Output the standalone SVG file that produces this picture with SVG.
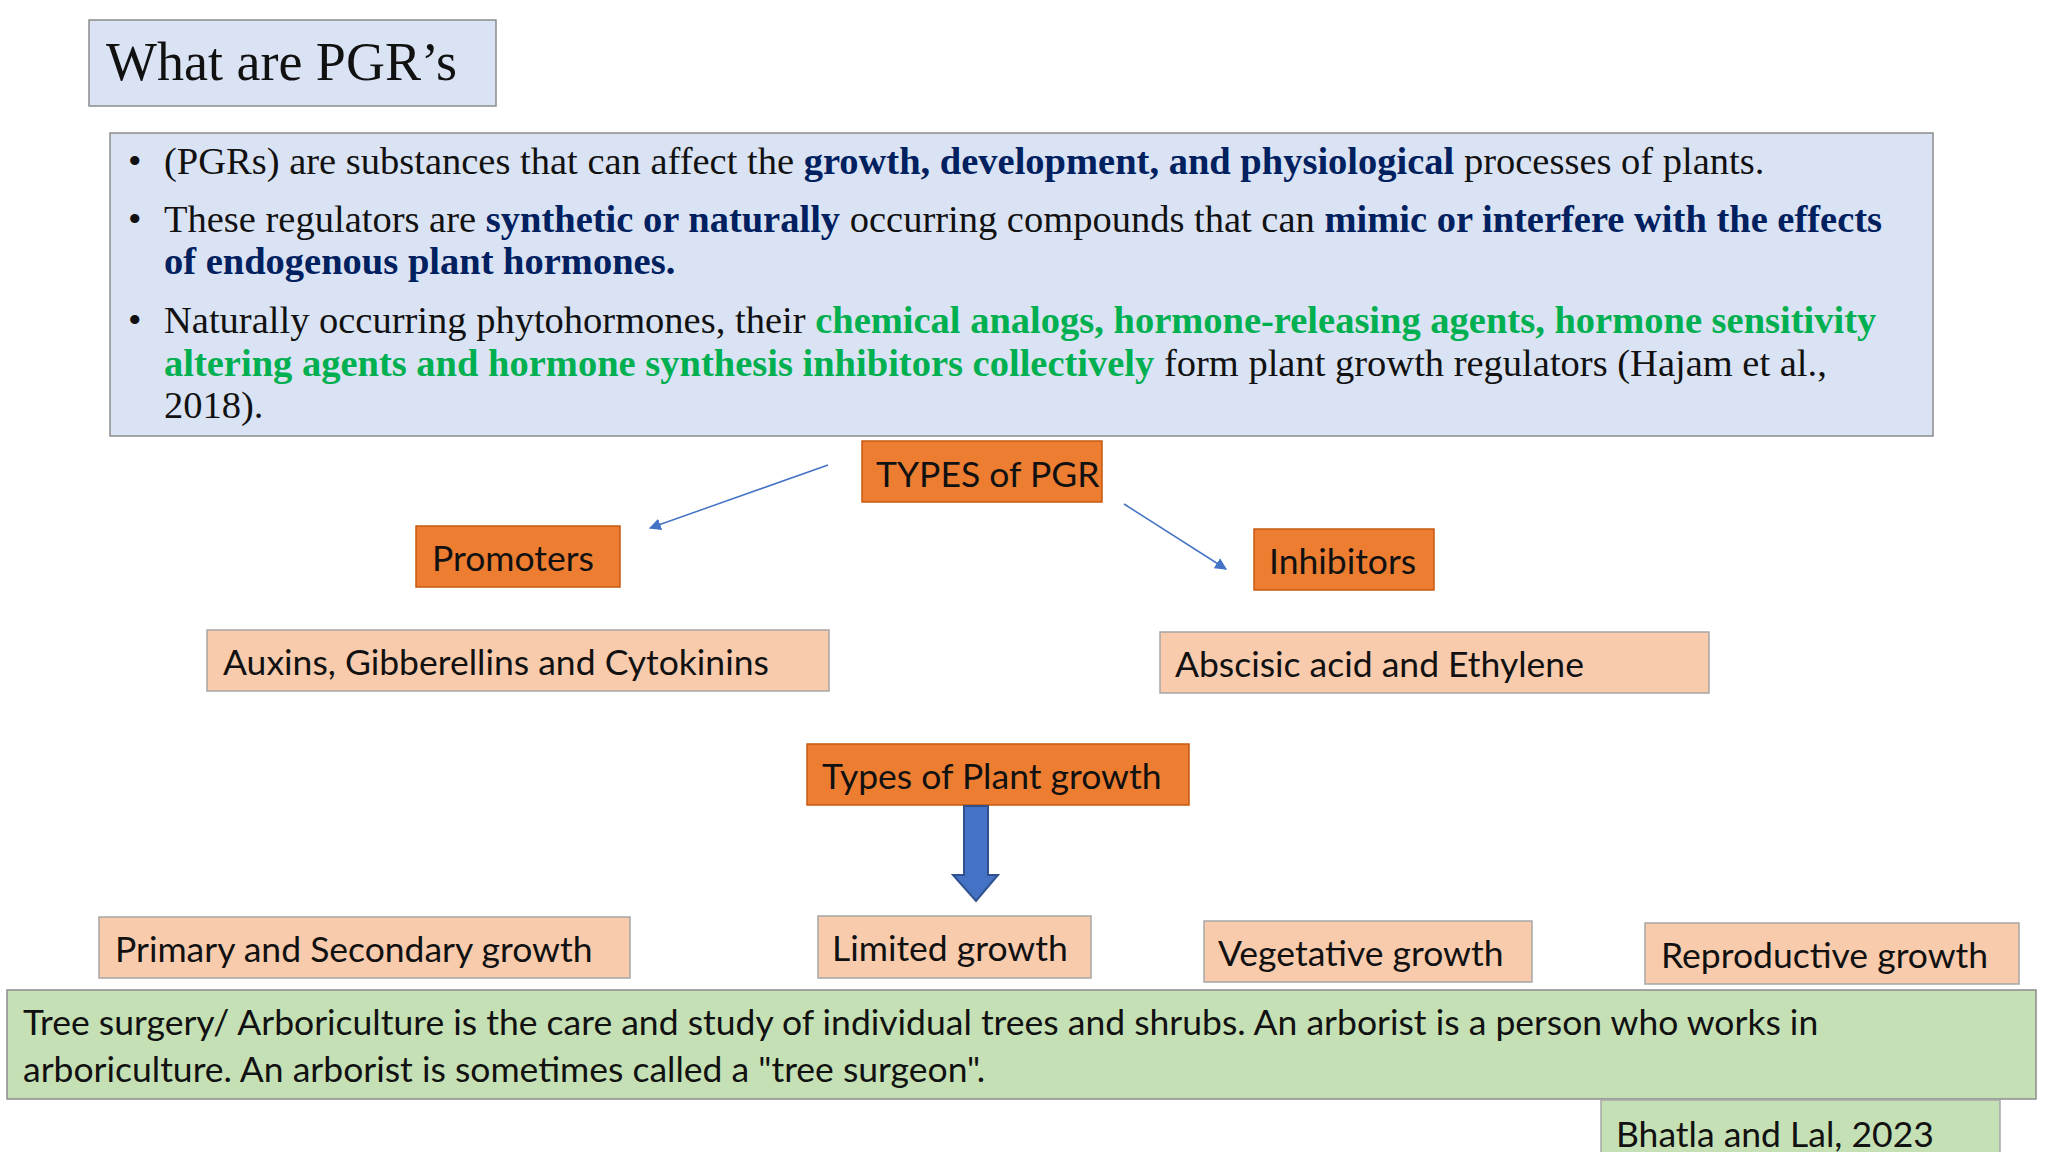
<svg xmlns="http://www.w3.org/2000/svg" width="2048" height="1152" viewBox="0 0 2048 1152">
<defs>
<style>
.s{font-family:"Liberation Serif","Times New Roman",serif;font-size:38.5px;fill:#111}
.b{font-weight:bold;fill:#002060}
.g{font-weight:bold;fill:#00b050}
.c{font-family:Lato,"Liberation Sans",sans-serif;font-size:35.5px;fill:#111}
.o{fill:#ed7d31;stroke:#c55a11;stroke-width:1.5}
.p{fill:#f8cbad;stroke:#a6a6a6;stroke-width:1.5}
</style>
<marker id="ah" viewBox="0 0 10 10" refX="9" refY="5" markerWidth="8" markerHeight="8" orient="auto"><path d="M0,0L10,5L0,10z" fill="#4472c4"/></marker>
</defs>
<rect width="2048" height="1152" fill="#fff"/>
<g id="title"><rect x="89" y="20" width="407" height="86" fill="#dae3f3" stroke="#8c8c8c" stroke-width="1.5"/><text x="106" y="80" class="s" style="font-size:54px">What are PGR’s</text></g>
<g id="intro"><rect x="110" y="133" width="1823" height="303" fill="#dae3f3" stroke="#8c8c8c" stroke-width="1.5"/>
<text class="s"><tspan x="128" y="174">•</tspan><tspan x="164" y="174">(PGRs) are substances that can affect the <tspan class="b">growth, development, and physiological</tspan> processes of plants.</tspan>
<tspan x="128" y="232">•</tspan><tspan x="164" y="232">These regulators are <tspan class="b">synthetic or naturally</tspan> occurring compounds that can <tspan class="b">mimic or interfere with the effects</tspan></tspan>
<tspan x="164" y="274" class="b">of endogenous plant hormones.</tspan>
<tspan x="128" y="333">•</tspan><tspan x="164" y="333">Naturally occurring phytohormones, their <tspan class="g">chemical analogs, hormone-releasing agents, hormone sensitivity</tspan></tspan>
<tspan x="164" y="376"><tspan class="g">altering agents and hormone synthesis inhibitors collectively</tspan> form plant growth regulators (Hajam et al.,</tspan>
<tspan x="164" y="418">2018).</tspan></text></g>
<g id="types"><rect x="862" y="441" width="240" height="61" class="o"/><text x="876" y="487" class="c">TYPES of PGR</text></g>
<g id="promoters"><rect x="416" y="526" width="204" height="61" class="o"/><text x="432" y="571" class="c">Promoters</text></g>
<g id="inhibitors"><rect x="1254" y="529" width="180" height="61" class="o"/><text x="1269" y="574" class="c">Inhibitors</text></g>
<g id="auxins"><rect x="207" y="630" width="622" height="61" class="p"/><text x="223" y="675" class="c">Auxins, Gibberellins and Cytokinins</text></g>
<g id="abscisic"><rect x="1160" y="632" width="549" height="61" class="p"/><text x="1175" y="677" class="c">Abscisic acid and Ethylene</text></g>
<g id="plantgrowth"><rect x="807" y="744" width="382" height="61" class="o"/><text x="822" y="789" class="c">Types of Plant growth</text></g>
<g id="primary"><rect x="99" y="917" width="531" height="61" class="p"/><text x="115" y="962" class="c">Primary and Secondary growth</text></g>
<g id="limited"><rect x="818" y="916" width="273" height="62" class="p"/><text x="832" y="961" class="c">Limited growth</text></g>
<g id="vegetative"><rect x="1204" y="921" width="328" height="61" class="p"/><text x="1218" y="966" class="c">Vegetative growth</text></g>
<g id="reproductive"><rect x="1645" y="923" width="374" height="61" class="p"/><text x="1661" y="968" class="c">Reproductive growth</text></g>
<g id="note"><rect x="7" y="990" width="2029" height="109" fill="#c5e0b4" stroke="#8c8c8c" stroke-width="1.5"/>
<text class="c"><tspan x="23" y="1035">Tree surgery/ Arboriculture is the care and study of individual trees and shrubs. An arborist is a person who works in</tspan><tspan x="23" y="1082">arboriculture. An arborist is sometimes called a "tree surgeon".</tspan></text></g>
<g id="ref"><rect x="1601" y="1100" width="399" height="63" fill="#c5e0b4" stroke="#a6a6a6" stroke-width="1.5"/><text x="1616" y="1147" class="c">Bhatla and Lal, 2023</text></g>
<g id="connectors" stroke="#4472c4" stroke-width="1.5" fill="none">
<line x1="828" y1="465" x2="650" y2="528" marker-end="url(#ah)"/>
<line x1="1124" y1="504" x2="1226" y2="569" marker-end="url(#ah)"/>
<path d="M964,806H988V875H998L976,901L953,875H964Z" fill="#4472c4" stroke="#2f528f" stroke-width="2"/>
</g>
</svg>
